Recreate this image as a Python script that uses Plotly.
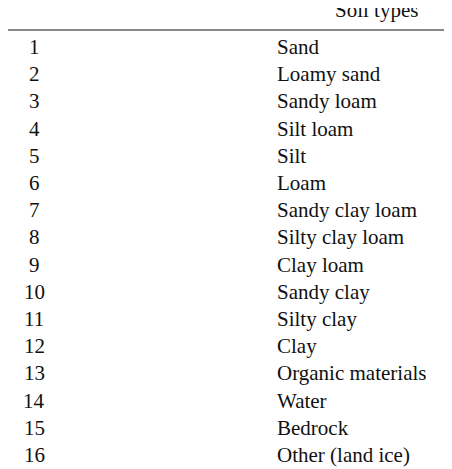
import plotly.graph_objects as go

indices = [str(i) for i in range(1, 17)]
soil_types = ["Sand", "Loamy sand", "Sandy loam", "Silt loam", "Silt", "Loam",
              "Sandy clay loam", "Silty clay loam", "Clay loam", "Sandy clay",
              "Silty clay", "Clay", "Organic materials", "Water", "Bedrock",
              "Other (land ice)"]
headers = ["Index", "Soil types"]

fig = go.Figure()
font = dict(family="Liberation Serif", size=21, color="#111")
ann = []
ann.append(dict(x=0, y=10, text=headers[0], xanchor="left", yanchor="middle", showarrow=False, font=font))
ann.append(dict(x=420, y=10, text=headers[1], xanchor="right", yanchor="middle", showarrow=False, font=font))
for i, (idx, s) in enumerate(zip(indices, soil_types)):
    y = 47 + i * 27.2
    ann.append(dict(x=34, y=y, text=idx, xanchor="center", yanchor="middle", showarrow=False, font=font))
    ann.append(dict(x=275, y=y, text=s, xanchor="left", yanchor="middle", showarrow=False, font=font))
fig.update_layout(
    width=452, height=469, margin=dict(l=0, r=0, t=0, b=0),
    paper_bgcolor="white", plot_bgcolor="white",
    xaxis=dict(range=[8, 460], visible=False, fixedrange=True),
    yaxis=dict(range=[477, 8], visible=False, fixedrange=True),
    annotations=ann,
    shapes=[dict(type="line", x0=0, x1=452, y0=30, y1=30, line=dict(color="#111", width=1))],
    showlegend=False,
)
fig.write_html("out.html")
